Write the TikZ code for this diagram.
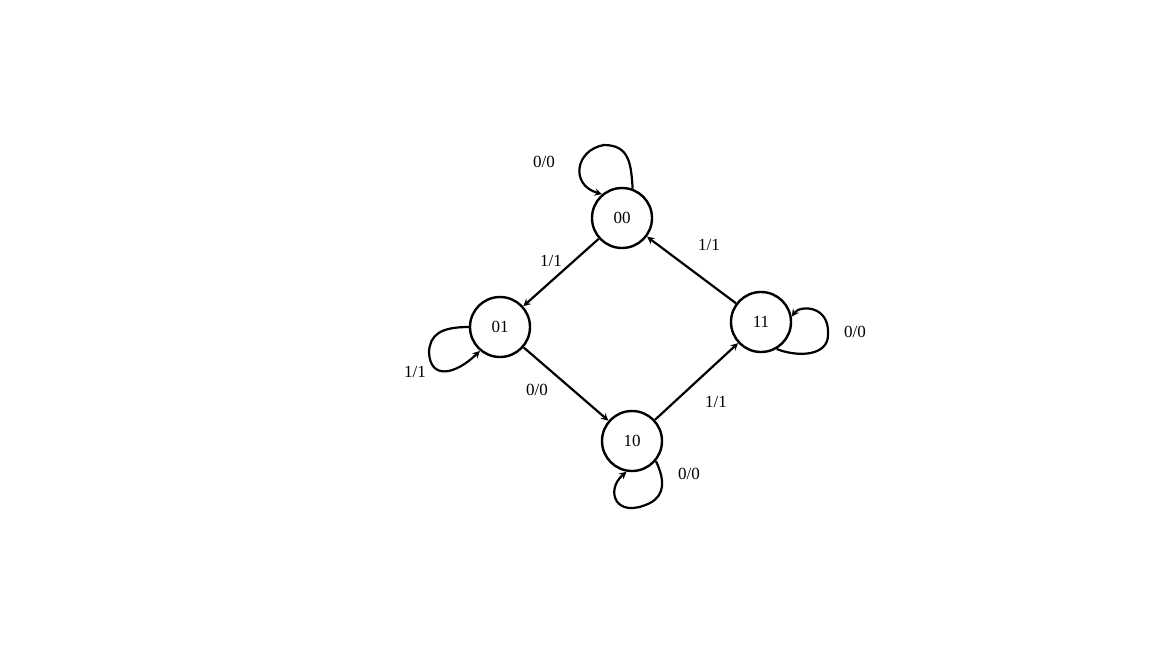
\documentclass[tikz,border=0pt]{standalone}
\usepackage{fontspec}
\setmainfont{Liberation Serif}
\begin{document}
\begin{tikzpicture}[x=1pt,y=-1pt,
  st/.style={circle,draw,line width=2.4pt,minimum size=60pt,inner sep=0pt,font=\fontsize{17}{17}\selectfont},
  lb/.style={font=\fontsize{17}{17}\selectfont},
  ed/.style={line width=2.2pt,->,>=stealth}]
\useasboundingbox (0,0) rectangle (1152,648);
\node[st] (a) at (622,218) {00};
\node[st] (b) at (500,327) {01};
\node[st] (c) at (632,441) {10};
\node[st] (d) at (761,322) {11};
\draw[ed] (a) -- (b);
\draw[ed] (b) -- (c);
\draw[ed] (c) -- (d);
\draw[ed] (d) -- (a);
\draw[ed] (a.70) .. controls (631,165) and (630,145) .. (604,145) .. controls (575,150) and (570,185) .. (a.130);
\draw[ed] (b.180) .. controls (440,327) and (430,335) .. (429,352) .. controls (430,380) and (455,375) .. (b.230);
\draw[ed] (d.300) .. controls (800,358) and (828,355) .. (828,335) .. controls (830,305) and (800,305) .. (d.10);
\draw[ed] (c.320) .. controls (665,480) and (665,495) .. (650,503) .. controls (615,520) and (605,490) .. (c.260);
\node[lb] (l1) at (544,162) {0/0};
\node[lb] (l2) at (551,261) {1/1};
\node[lb] (l3) at (709,245) {1/1};
\node[lb] (l4) at (415,372) {1/1};
\node[lb] (l5) at (537,390) {0/0};
\node[lb] (l6) at (716,402) {1/1};
\node[lb] (l7) at (855,332) {0/0};
\node[lb] (l8) at (689,474) {0/0};
\end{tikzpicture}
\end{document}
